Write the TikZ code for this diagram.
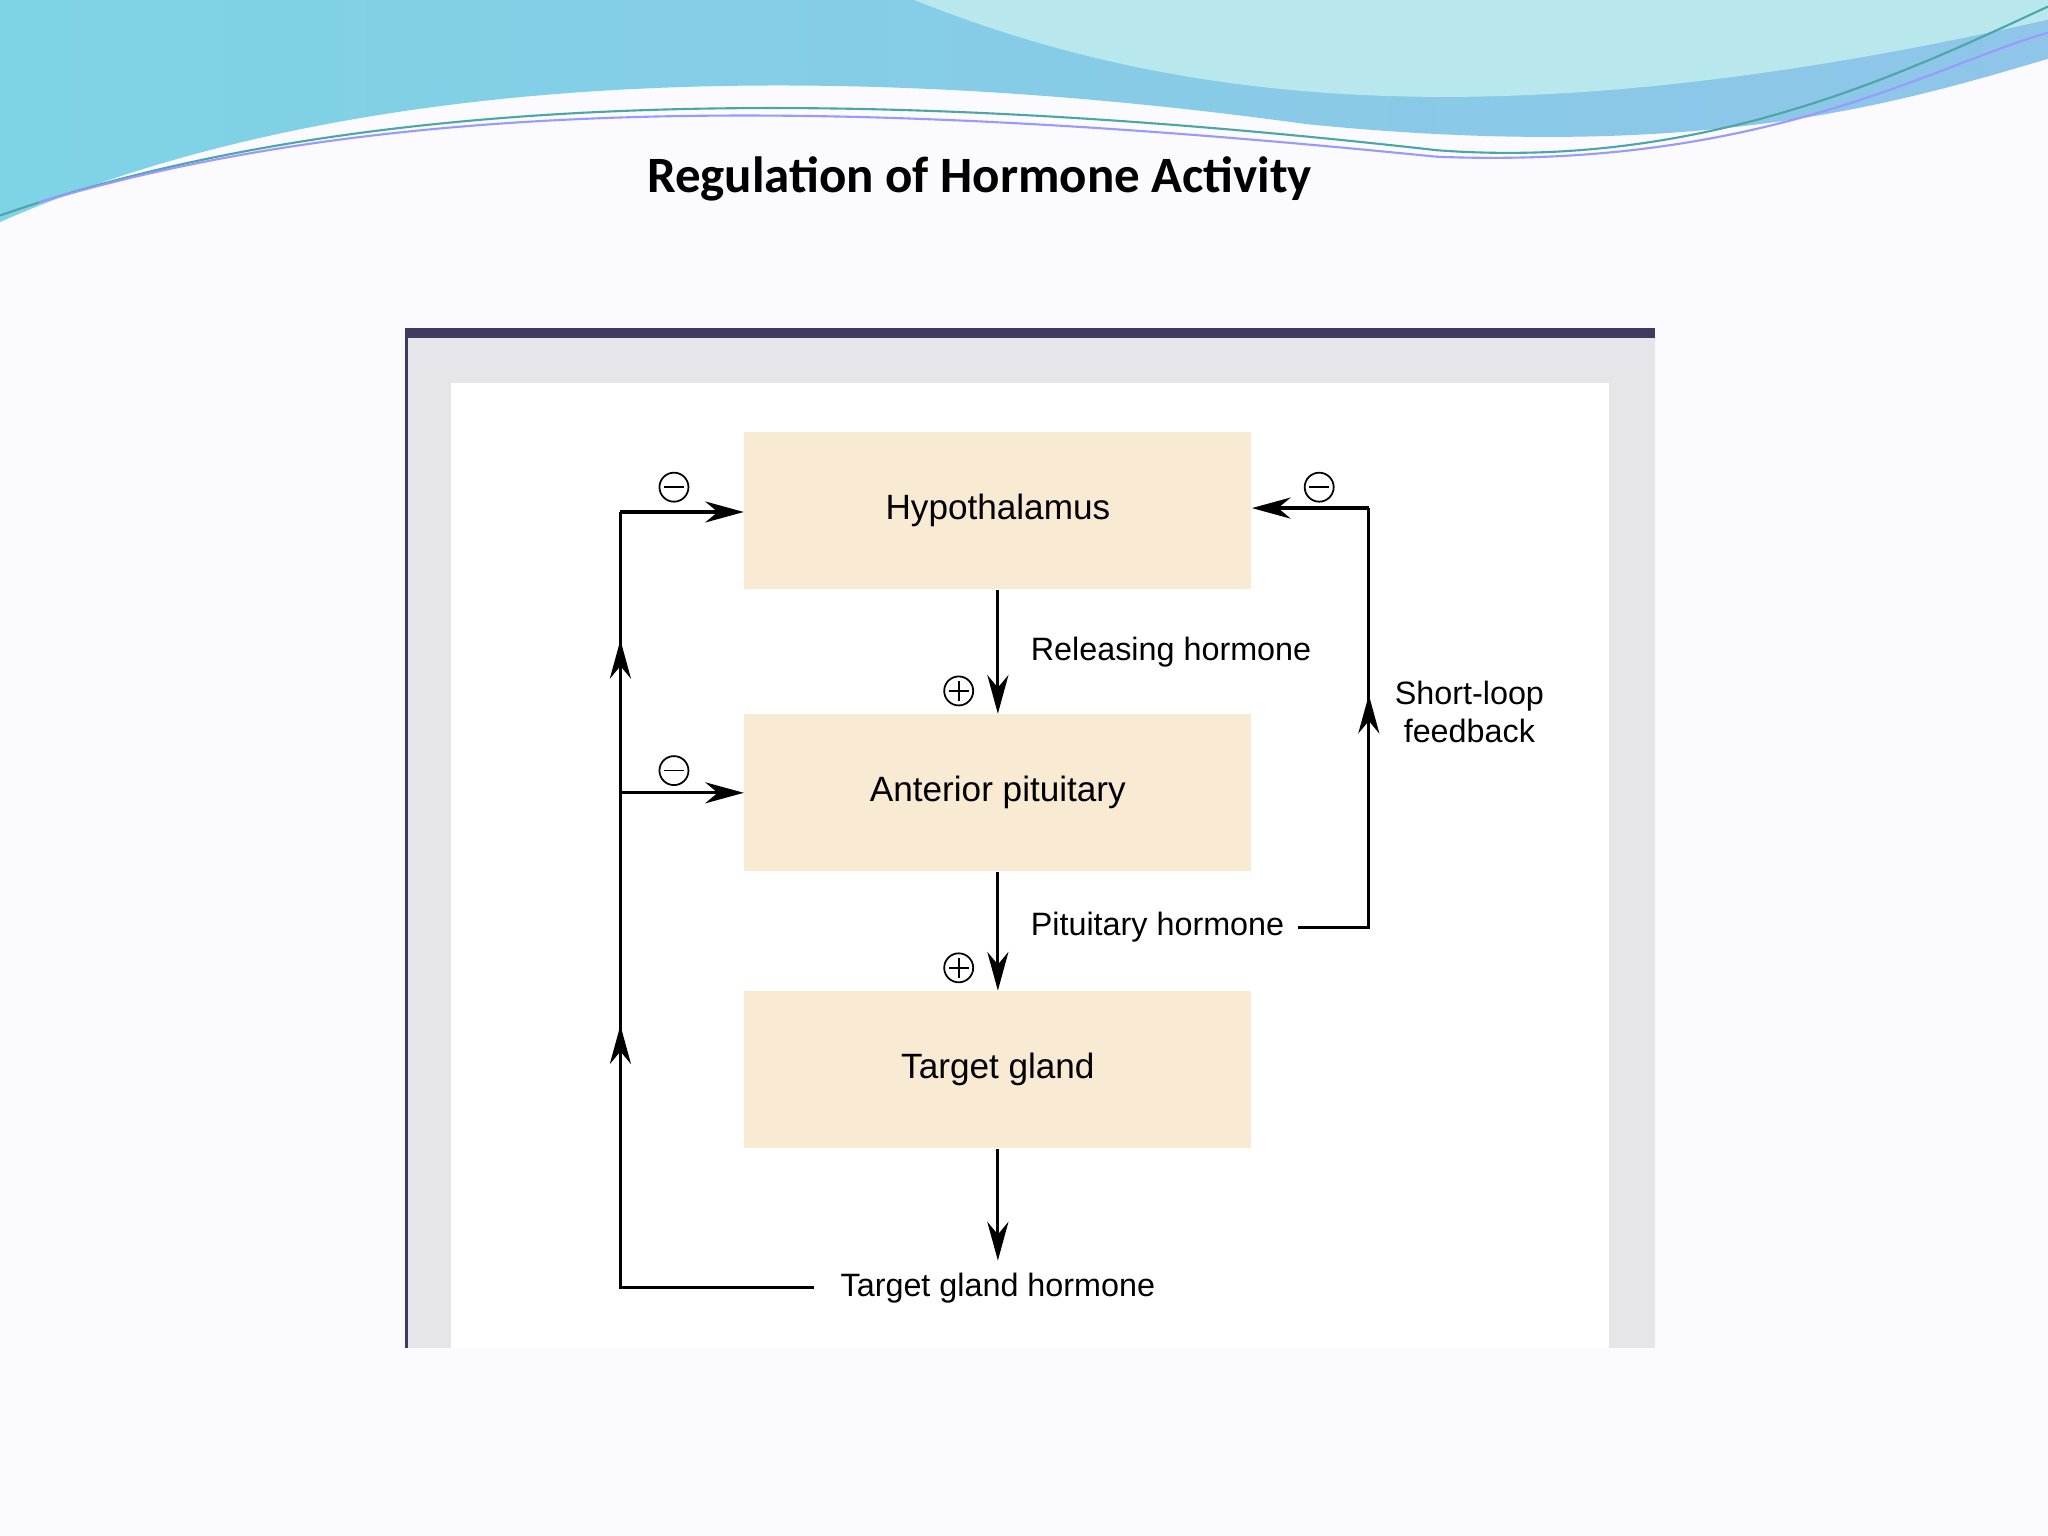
\documentclass[tikz,border=0pt]{standalone}
\usepackage{fontspec}
\setmainfont{Liberation Sans}
\newfontfamily\titlefont{Carlito}
\usetikzlibrary{arrows.meta}
\definecolor{boxfill}{HTML}{F8EAD3}
\definecolor{framedark}{HTML}{3F3A60}
\definecolor{panel}{HTML}{E6E5EA}
\definecolor{waveA}{HTML}{7FD3E6}
\definecolor{waveB}{HTML}{8EC5E8}
\definecolor{waveC}{HTML}{B8E8EE}
\begin{document}
\begin{tikzpicture}[x=0.013061cm,y=-0.013061cm,
  box/.style={draw=none,fill=boxfill,minimum width=388*0.013061cm,minimum height=120*0.013061cm,inner sep=0,font=\fontsize{10}{12}\selectfont},
  lbl/.style={font=\fontsize{9.2}{11}\selectfont,inner sep=1pt},
  arr/.style={line width=0.9pt,-{Stealth[length=11pt,width=6pt]}},
  ln/.style={line width=0.9pt},
  sgn/.style={circle,draw,line width=0.5pt,minimum size=0.29cm,inner sep=0},
  plus/.style={sgn,path picture={\draw[line width=0.5pt] ([xshift=-0.1cm]path picture bounding box.center)--([xshift=0.1cm]path picture bounding box.center) ([yshift=-0.1cm]path picture bounding box.center)--([yshift=0.1cm]path picture bounding box.center);}},
  minus/.style={sgn,path picture={\draw[line width=0.5pt] ([xshift=-0.1cm]path picture bounding box.center)--([xshift=0.1cm]path picture bounding box.center);}}]
\useasboundingbox (0,0) rectangle (1568,1176);
\fill[white!98!blue] (0,0) rectangle (1568,1176);
% waves
\shade[left color=waveA,right color=waveB] (0,0)--(0,170) .. controls (250,60) and (600,40) .. (1000,95) .. controls (1300,125) and (1450,80) .. (1568,45) -- (1568,0) -- cycle;
\fill[waveC] (700,0) .. controls (900,80) and (1150,110) .. (1568,15) -- (1568,0) -- cycle;
\draw[teal!70,line width=0.6pt] (0,165) .. controls (300,60) and (700,70) .. (1100,115) .. controls (1300,130) and (1450,60) .. (1568,5);
\draw[blue!40,line width=0.6pt] (30,155) .. controls (330,65) and (700,80) .. (1100,120) .. controls (1350,130) and (1480,50) .. (1568,25);
\node[font=\titlefont\bfseries\fontsize{14.5}{17}\selectfont] (title) at (750,137) {Regulation of Hormone Activity};
% frame
\fill[panel] (310,259) rectangle (1267,1032);
\fill[framedark] (310,251) rectangle (1267,259);
\fill[framedark] (310,251) rectangle (312,1032);
\fill[white] (345,293) rectangle (1232,1032);
% boxes
\node[box] (hyp) at (764,391) {Hypothalamus};
\node[box] (ap) at (764,607) {Anterior pituitary};
\node[box] (tg) at (764,819) {Target gland};
\node[lbl] (tgh) at (764,986) {Target gland hormone};
\node[lbl,anchor=west] (rh) at (786,499) {Releasing hormone};
\node[lbl,anchor=west] (ph) at (786,710) {Pituitary hormone};
\node[lbl,align=center] (sl) at (1125,545) {Short-loop\\feedback};
\node[plus] (p1) at (734,529) {};
\node[plus] (p2) at (734,741) {};
\node[minus] (m1) at (516,373) {};
\node[minus] (m2) at (516,590) {};
\node[minus] (m3) at (1010,373) {};
% main arrows
\draw[arr] (hyp.south) -- (ap.north);
\draw[arr] (ap.south) -- (tg.north);
\draw[arr] (tg.south) -- ([yshift=0.08cm]tgh.north);
% left loop
\coordinate (lb) at (475,986);
\coordinate (lt) at (475,392);
\coordinate (lm) at (475,607);
\coordinate (la1) at (475,785);
\coordinate (la2) at (475,490);
\draw[ln] (623,986) -- (lb) -- (lt);
\draw[arr] (lt) -- (hyp.west|-lt);
\draw[arr] (lm) -- (ap.west);
\draw[arr] (475,830) -- (la1);
\draw[arr] (475,540) -- (la2);
% right loop
\coordinate (rb) at (1048,710);
\coordinate (rt) at (1048,389);
\draw[ln] (ph.east) ++(0.1cm,0) -- (rb) -- (rt);
\draw[arr] (rt) -- (hyp.east|-rt);
\draw[arr] (1048,580) -- (1048,532);
\end{tikzpicture}
\end{document}
